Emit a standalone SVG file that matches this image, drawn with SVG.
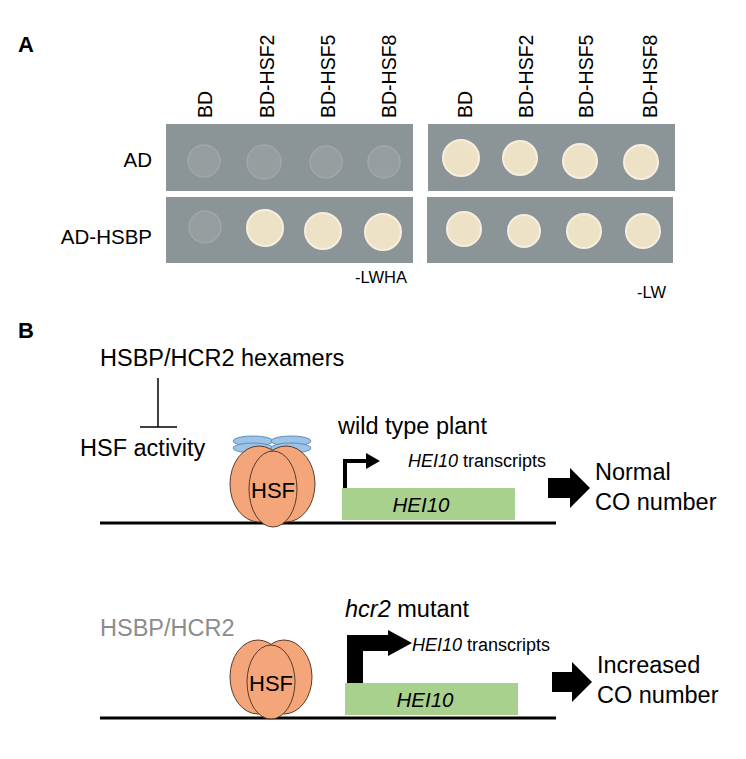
<svg xmlns="http://www.w3.org/2000/svg" width="746" height="759" viewBox="0 0 746 759">
<style>
text{font-family:"Liberation Sans",Arial,sans-serif;fill:#000}
.col{font-size:19.5px}
.plate{fill:#8b9497}
.faint{fill:#979ea0;stroke:#a0a7a8;stroke-width:1.5}
.spot{fill:#eee2c6;stroke:#f6efe0;stroke-width:2}
.hsf{fill:#f4a67a;stroke:#5a3a28;stroke-width:1}
.blue{fill:#9dc3e6;stroke:#5b8fbf;stroke-width:1}
.gene{fill:#a9d18e}
.big{font-size:23.5px}
.sm{font-size:18px}
</style>
<rect width="746" height="759" fill="#fff"/>
<text x="18" y="52" font-size="22" font-weight="bold">A</text>
<g id="collabels" class="col">
<text transform="translate(212,118) rotate(-90)">BD</text>
<text transform="translate(274,118) rotate(-90)">BD-HSF2</text>
<text transform="translate(335,118) rotate(-90)">BD-HSF5</text>
<text transform="translate(396,118) rotate(-90)">BD-HSF8</text>
<text transform="translate(472,118) rotate(-90)">BD</text>
<text transform="translate(533,118) rotate(-90)">BD-HSF2</text>
<text transform="translate(593,118) rotate(-90)">BD-HSF5</text>
<text transform="translate(657,118) rotate(-90)">BD-HSF8</text>
</g>
<text x="152" y="167" font-size="20.5" text-anchor="end">AD</text>
<text x="152" y="244" font-size="20.5" text-anchor="end">AD-HSBP</text>
<g id="plates">
<rect class="plate" x="166" y="124" width="247" height="67"/>
<rect class="plate" x="166" y="197" width="247" height="66"/>
<rect class="plate" x="428" y="124" width="247" height="67"/>
<rect class="plate" x="427" y="197" width="246" height="66"/>
<circle class="faint" cx="204" cy="161" r="16"/>
<circle class="faint" cx="264" cy="162" r="17"/>
<circle class="faint" cx="326" cy="162" r="16"/>
<circle class="faint" cx="384" cy="162" r="16"/>
<circle class="spot" cx="461" cy="158" r="18"/>
<circle class="spot" cx="520" cy="158" r="17"/>
<circle class="spot" cx="580" cy="161" r="17"/>
<circle class="spot" cx="641" cy="162" r="17"/>
<circle class="faint" cx="205" cy="227" r="16"/>
<circle class="spot" cx="265" cy="228" r="18"/>
<circle class="spot" cx="323" cy="231" r="18"/>
<circle class="spot" cx="383" cy="232" r="18"/>
<circle class="spot" cx="464" cy="229" r="17"/>
<circle class="spot" cx="524" cy="231" r="16"/>
<circle class="spot" cx="584" cy="231" r="17"/>
<circle class="spot" cx="643" cy="231" r="17"/>
</g>
<text x="355" y="283" font-size="16.5">-LWHA</text>
<text x="637" y="298" font-size="16.5">-LW</text>

<text x="18" y="338" font-size="22" font-weight="bold">B</text>
<text x="100" y="366" class="big">HSBP/HCR2 hexamers</text>
<g id="connectors" stroke="#000" fill="none">
<line x1="158" y1="378" x2="158" y2="427" stroke-width="1.5"/>
<line x1="140" y1="427" x2="177" y2="427" stroke-width="1.5"/>
<line x1="100" y1="523" x2="556" y2="523" stroke-width="3"/>
<line x1="100" y1="718" x2="556" y2="718" stroke-width="3"/>
<polyline points="345,488 345,461 368,461" stroke-width="4"/>
<polygon points="366,453 380,461 366,469" fill="#000" stroke="none"/>
<polyline points="355,683 355,643 390,643" stroke-width="16"/>
<polygon points="388,630 412,643 388,656" fill="#000" stroke="none"/>
<polygon points="548,478 570,478 570,468 590,488 570,508 570,498 548,498" fill="#000" stroke="none"/>
<polygon points="552,672 572,672 572,662 592,682 572,702 572,692 552,692" fill="#000" stroke="none"/>
</g>
<text x="80" y="456" class="big">HSF activity</text>
<g id="hsf1">
<ellipse class="blue" cx="253" cy="441" rx="20" ry="5"/>
<ellipse class="blue" cx="253" cy="448" rx="20" ry="5"/>
<ellipse class="blue" cx="291" cy="441" rx="20" ry="5"/>
<ellipse class="blue" cx="291" cy="448" rx="20" ry="5"/>
<ellipse class="hsf" cx="259" cy="484" rx="29" ry="38"/>
<ellipse class="hsf" cx="286" cy="484" rx="29" ry="38"/>
<ellipse class="hsf" cx="273" cy="489" rx="24" ry="38"/>
<text x="273" y="498" font-size="22" text-anchor="middle">HSF</text>
</g>
<g id="gene1">
<rect class="gene" x="342" y="488" width="173" height="32"/>
<text x="421" y="512" font-size="20.5" font-style="italic" text-anchor="middle">HEI10</text>
</g>
<text x="338" y="434" class="big">wild type plant</text>
<text x="408" y="467" class="sm"><tspan font-style="italic">HEI10</tspan> transcripts</text>
<text x="595" y="480" class="big">Normal</text>
<text x="595" y="510" class="big">CO number</text>

<text x="100" y="636" class="big" style="fill:#8c8c8c">HSBP/HCR2</text>
<g id="hsf2">
<ellipse class="hsf" cx="258" cy="677" rx="28" ry="37"/>
<ellipse class="hsf" cx="284" cy="677" rx="28" ry="37"/>
<ellipse class="hsf" cx="271" cy="682" rx="24" ry="37"/>
<text x="271" y="691" font-size="22" text-anchor="middle">HSF</text>
</g>
<g id="gene2">
<rect class="gene" x="345" y="683" width="173" height="32"/>
<text x="425" y="707" font-size="20.5" font-style="italic" text-anchor="middle">HEI10</text>
</g>
<text x="345" y="617" class="big"><tspan font-style="italic">hcr2</tspan> mutant</text>
<text x="412" y="651" class="sm"><tspan font-style="italic">HEI10</tspan> transcripts</text>
<text x="597" y="673" class="big">Increased</text>
<text x="597" y="703" class="big">CO number</text>
</svg>
